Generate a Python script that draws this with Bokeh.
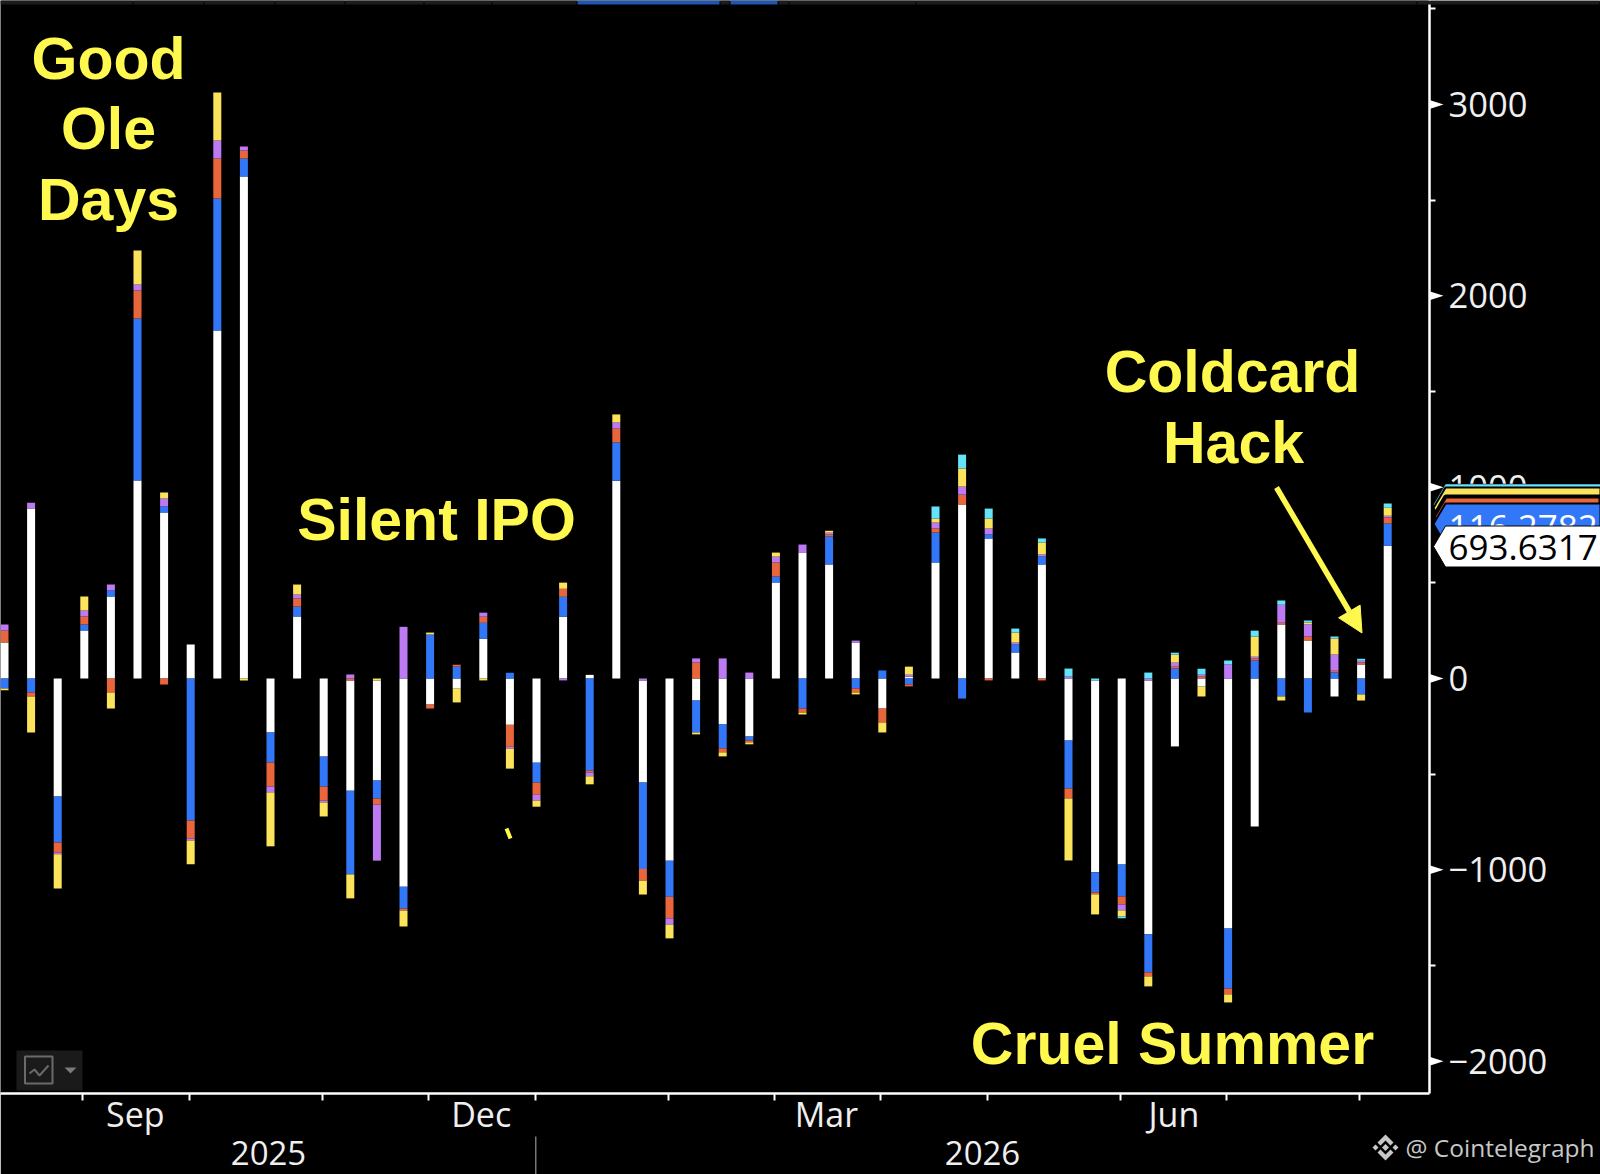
from bokeh.plotting import figure
from bokeh.models import Range1d, LinearAxis, FixedTicker, Label, Arrow, NormalHead, ColumnDataSource
from bokeh.core.properties import value
from bokeh.embed import file_html
from bokeh.resources import INLINE

weeks = list(range(53))
white  = [188,888,-617,251,429,1035,868,178,1819,2623,-282,324,-408,-576,-523,-1088,-136,-53,208,-242,-440,323,19,1034,-534,-952,-115,-240,-303,502,658,596,188,-157,10,606,909,732,136,596,-324,-1003,-972,-1327,-355,-42,-1306,-773,282,199,-94,73,693.63]
blue   = [-52,-73,-240,31,31,847,31,-742,690,94,-157,52,-157,-438,-94,-115,230,62,83,30,-104,104,-482,200,-451,-189,-167,-125,-21,31,-157,146,-52,42,-31,157,-105,21,42,42,-251,-105,-167,-199,52,0,-314,94,-94,-178,31,-84,116.28]
orange = [63,-21,-52,42,-73,146,-31,-94,209,42,-125,42,-73,-10,-32,-10,-21,10,32,-115,-64,42,-10,72,-62,-113,84,-21,-10,73,-21,10,-21,-73,-10,21,52,-10,0,-10,-52,-10,-42,-21,10,10,-31,10,10,21,10,10,31]
purple = [31,31,-10,31,31,31,42,-10,94,21,-31,21,-10,21,-293,270,0,0,21,-10,-30,-10,-19,32,-10,-32,21,105,31,31,42,10,10,0,10,31,42,31,10,10,10,0,-31,-10,21,10,73,10,94,63,84,10,10]
yellow = [-10,-188,-178,73,-84,178,31,-125,251,-10,-282,52,-73,-125,-10,-83,10,-72,-10,-104,-32,32,-42,42,-72,-72,-10,-21,-10,21,-10,10,-10,-52,42,21,94,52,52,63,-324,-105,-31,-52,42,-52,-42,105,-21,10,84,-31,42]
cyan   = [0]*35 + [63,73,52,21,21,42,-10,-10,31,10,31,21,31,21,10,10,10,21]
# small values the terminal prints next to the zero line, ahead of the white block
slivers = [(13,"orange"),(14,"yellow"),(24,"purple"),(41,"cyan"),(43,"purple")]

series_names  = ["white","blue","orange","purple","yellow","cyan"]
series_values = [white,blue,orange,purple,yellow,cyan]
series_colors = ["#FFFFFF","#3177F8","#E9653B","#BC7BF3","#FBE45C","#64E3FB"]

y_ticks = [-2000,-1000,0,1000,2000,3000]
y_minor = [-1500,-500,500,1500,2500,3500]
month_ticks = [3,7,12,16,20,25,29,33,37,42,46,51]
month_label_pos = {4.92:"Sep",17.92:"Dec",30.9:"Mar",43.96:"Jun"}
year_labels = ["2025","2026"]
tag_texts = ["116.2782","693.6317"]

# frame geometry
W, H = 1600, 1174
FW, FH = 1429, 1093
PX_PER_WEEK = 26.6
PX_PER_UNIT = 0.19135
x0 = -4/PX_PER_WEEK
x1 = (FW-4)/PX_PER_WEEK
y1 = 678/PX_PER_UNIT
y0 = -(FH-678)/PX_PER_UNIT
X = lambda px: x0 + px*(x1-x0)/FW
Y = lambda py: y1 - py*(y1-y0)/FH

p = figure(width=W, height=H, x_range=Range1d(x0,x1), y_range=Range1d(y0,y1),
           output_backend="svg", toolbar_location=None, x_axis_location=None, y_axis_location=None,
           background_fill_color="#000000", border_fill_color="#000000",
           min_border_left=0, min_border_top=0, min_border_right=W-FW, min_border_bottom=H-FH,
           outline_line_color=None)
p.styles = {"position":"absolute","left":"0","top":"0"}
p.xgrid.visible = False
p.ygrid.visible = False

# diverging stacks
pos_base = [0.0]*53
neg_base = [0.0]*53
for wk, nm in slivers:
    neg_base[wk] += series_values[series_names.index(nm)][wk]
for nm, vals, col in zip(series_names, series_values, series_colors):
    top, bot = [], []
    for w, v in enumerate(vals):
        if (w, nm) in slivers:
            top.append(0.0); bot.append(v)
        elif v >= 0:
            bot.append(pos_base[w]); top.append(pos_base[w]+v); pos_base[w] += v
        else:
            top.append(neg_base[w]); bot.append(neg_base[w]+v); neg_base[w] += v
    p.vbar(x="x", top="top", bottom="bottom", width=8/PX_PER_WEEK, fill_color=col, line_color=None,
           source=ColumnDataSource(dict(x=weeks, top=top, bottom=bot)))

# axes
TXT = "#EFEFEF"
yax = LinearAxis(ticker=FixedTicker(ticks=y_ticks, minor_ticks=y_minor),
                 major_label_overrides={t:(str(t).replace("-","\u2212")) for t in y_ticks},
                 major_label_text_font="Open Sans", major_label_text_font_size="34.5px",
                 major_label_text_color=TXT, major_label_standoff=13,
                 major_tick_line_color=None, major_tick_in=0, major_tick_out=0,
                 minor_tick_line_color="#FFFFFF", minor_tick_line_width=2, minor_tick_in=0, minor_tick_out=6,
                 axis_line_color="#FFFFFF", axis_line_width=2.5)
p.add_layout(yax, "right")

mticks = [m-0.05 for m in month_ticks]
xax = LinearAxis(ticker=FixedTicker(ticks=list(month_label_pos), minor_ticks=mticks),
                 major_label_overrides=month_label_pos,
                 major_label_text_font="Open Sans", major_label_text_font_size="34px",
                 major_label_text_color=TXT, major_label_standoff=-10,
                 major_tick_line_color=None, major_tick_in=0, major_tick_out=0,
                 minor_tick_line_color="#FFFFFF", minor_tick_line_width=2, minor_tick_in=0, minor_tick_out=7,
                 axis_line_color="#FFFFFF", axis_line_width=2.5)
p.add_layout(xax, "below")

# annotations inside the plot
ANN = "#FFF94F"
for txt_s, cx, cy in [("Good",108,58),("Ole",108,128.5),("Days",108,199.5),("Silent IPO",436,519),
                      ("Coldcard",1232,371),("Hack",1233,442.5),("Cruel Summer",1172,1043.5)]:
    p.add_layout(Label(x=X(cx), y=Y(cy), text=txt_s, text_font="Liberation Sans", text_font_style="bold",
                       text_font_size="59px", text_color=ANN, text_align="center", text_baseline="middle"))

p.add_layout(Arrow(x_start=X(1276), y_start=Y(487), x_end=X(1361.5), y_end=Y(632.5),
                   line_color=ANN, line_width=5.5,
                   end=NormalHead(size=25, fill_color=ANN, line_color=ANN, line_width=1)))
p.line([X(506),X(510)], [Y(828),Y(838)], line_color=ANN, line_width=4)

# transparent overlay the size of the window, for what sits outside the frame
q = figure(width=W, height=H, x_range=Range1d(0,W), y_range=Range1d(H,0),
           output_backend="svg", toolbar_location=None, x_axis_location=None, y_axis_location=None,
           background_fill_alpha=0.0, border_fill_alpha=0.0, min_border=0, outline_line_color=None)
q.styles = {"position":"absolute","left":"0","top":"0"}
q.xgrid.visible = False
q.ygrid.visible = False

def poly(pts, fill, line=None, lw=0):
    q.patch([a for a,b in pts], [b for a,b in pts], fill_color=fill, line_color=line, line_width=lw)

def txt(x, y, s, font, size, col, align="left"):
    q.text([x],[y],text=[s], text_font=value(font), text_font_size=value(size), text_color=col,
           text_baseline="middle", text_align=align)

# triangular major ticks
for t in y_ticks:
    py = 678 - t*PX_PER_UNIT
    poly([(FW,py-4.5),(FW,py+4.5),(FW+14,py)], "#FFFFFF")

# years and their divider
txt(268, 1152, year_labels[0], "Open Sans", "33px", TXT, "center")
txt(982, 1152, year_labels[1], "Open Sans", "33px", TXT, "center")
poly([(534.5,1136),(536,1136),(536,1174),(534.5,1174)], "#777777")

# top strip
strip_edges = [0,133,204,275,345,424,492,577,720,730,778,789,916,1417,1600]
strip_fill  = ["#1C1C1C"]*7 + ["#1F55B4","#1C1C1C","#1F55B4","#1C1C1C","#1C1C1C","#1C1C1C","#1C1C1C"]
for a,b,c in zip(strip_edges[:-1], strip_edges[1:], strip_fill):
    poly([(a,0),(b-1,0),(b-1,4),(a,4)], c)

# stacked last-value tags
def tag(top, col, line_w):
    poly([(1445,top),(1600,top),(1600,top+41),(1445,top+41),(1433,top+20.5)], col, "#000000", line_w)
tag(483.5, "#64E3FB", 0.5)
tag(487,   "#FBE45C", 2)
tag(496,   "#E9653B", 4)
tag(503,   "#3177F8", 2)
txt(1448, 527, tag_texts[0], "Open Sans", "35px", "#FFFFFF")
tag(525.5, "#FFFFFF", 1)
txt(1448, 547, tag_texts[1], "Open Sans", "35px", "#000000")

# small chart icon
poly([(16,1050),(82,1050),(82,1090),(16,1090)], "#1A1A1A")
poly([(24.5,1056),(52,1056),(52,1083),(24.5,1083)], "#1A1A1A", "#6A6A6A", 2)
q.line([29,34,39,48], [1073,1069,1075,1065], line_color="#6A6A6A", line_width=2)
poly([(64,1067),(76,1067),(70,1073)], "#7A7A7A")

# watermark
WM = "#C8C8C8"
cx, cy = 1385, 1147
for pts in ([(0,-13),(8,-5),(5,-2),(0,-7),(-5,-2),(-8,-5)],
            [(0,13),(8,5),(5,2),(0,7),(-5,2),(-8,5)],
            [(0,-3.5),(3.5,0),(0,3.5),(-3.5,0)],
            [(10,-3),(13,0),(10,3),(7,0)],
            [(-10,-3),(-13,0),(-10,3),(-7,0)]):
    poly([(cx+a,cy+b) for a,b in pts], WM)
txt(1405, 1147, "@ Cointelegraph", "Open Sans", "24.5px", WM)

open("out.html", "w").write(file_html((p, q), INLINE))
